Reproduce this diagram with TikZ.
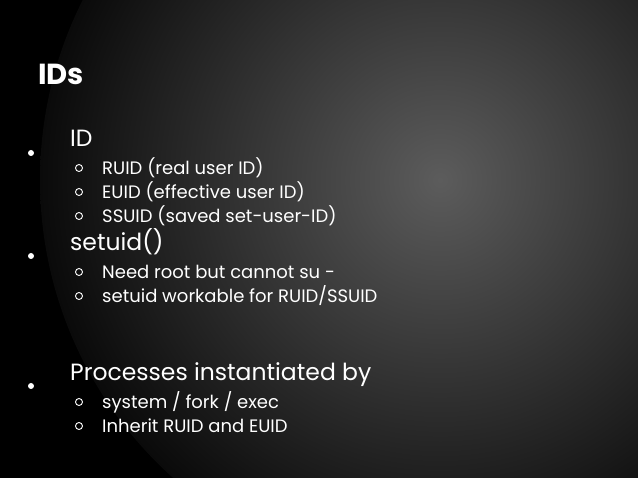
\documentclass[tikz,border=0pt]{standalone}
\usepackage{fontspec}
\setmainfont{Poppins}
\begin{document}
\begin{tikzpicture}[x=1pt,y=1pt,
  title/.style={anchor=base west,text=white,font=\bfseries\fontsize{29}{32}\selectfont,inner sep=0},
  lvla/.style={anchor=base west,text=white,font=\fontsize{23.5}{28}\selectfont,inner sep=0},
  lvlb/.style={anchor=base west,text=white,font=\fontsize{18}{22}\selectfont,inner sep=0},
  dotb/.style={fill=white,circle,inner sep=0,minimum size=6pt},
  ringb/.style={draw=white,line width=0.9pt,circle,inner sep=0,minimum size=7pt}]
\useasboundingbox (0,0) rectangle (638,-478);
\begin{scope}
\clip (0,0) rectangle (638,-478);
\fill[black] (0,0) rectangle (638,-478);
\shade[inner color={rgb,255:red,92;green,92;blue,92},outer color={rgb,255:red,10;green,10;blue,10}] (440,-180) circle (400);
\end{scope}
\node[title] (t) at (38,-85) {IDs};
\node[lvla] (a1) at (70,-147) {ID};
\node[dotb] (d1) at (31,-153) {};
\node[lvlb] (b1) at (102,-175) {RUID (real user ID)};
\node[lvlb] (b2) at (102,-199) {EUID (effective user ID)};
\node[lvlb] (b3) at (102,-223) {SSUID (saved set-user-ID)};
\node[ringb] at (79,-168) {};
\node[ringb] at (79,-192) {};
\node[ringb] at (79,-216) {};
\node[lvla] (a2) at (70,-251) {setuid()};
\node[dotb] at (31,-256) {};
\node[lvlb] (b4) at (102,-279) {Need root but cannot su -};
\node[lvlb] (b5) at (102,-303) {setuid workable for RUID/SSUID};
\node[ringb] at (79,-272) {};
\node[ringb] at (79,-296) {};
\node[lvla] (a3) at (70,-381) {Processes instantiated by};
\node[dotb] at (31,-386) {};
\node[lvlb] (b6) at (102,-409) {system / fork / exec};
\node[lvlb] (b7) at (102,-433) {Inherit RUID and EUID};
\node[ringb] at (79,-402) {};
\node[ringb] at (79,-426) {};
\end{tikzpicture}
\end{document}
